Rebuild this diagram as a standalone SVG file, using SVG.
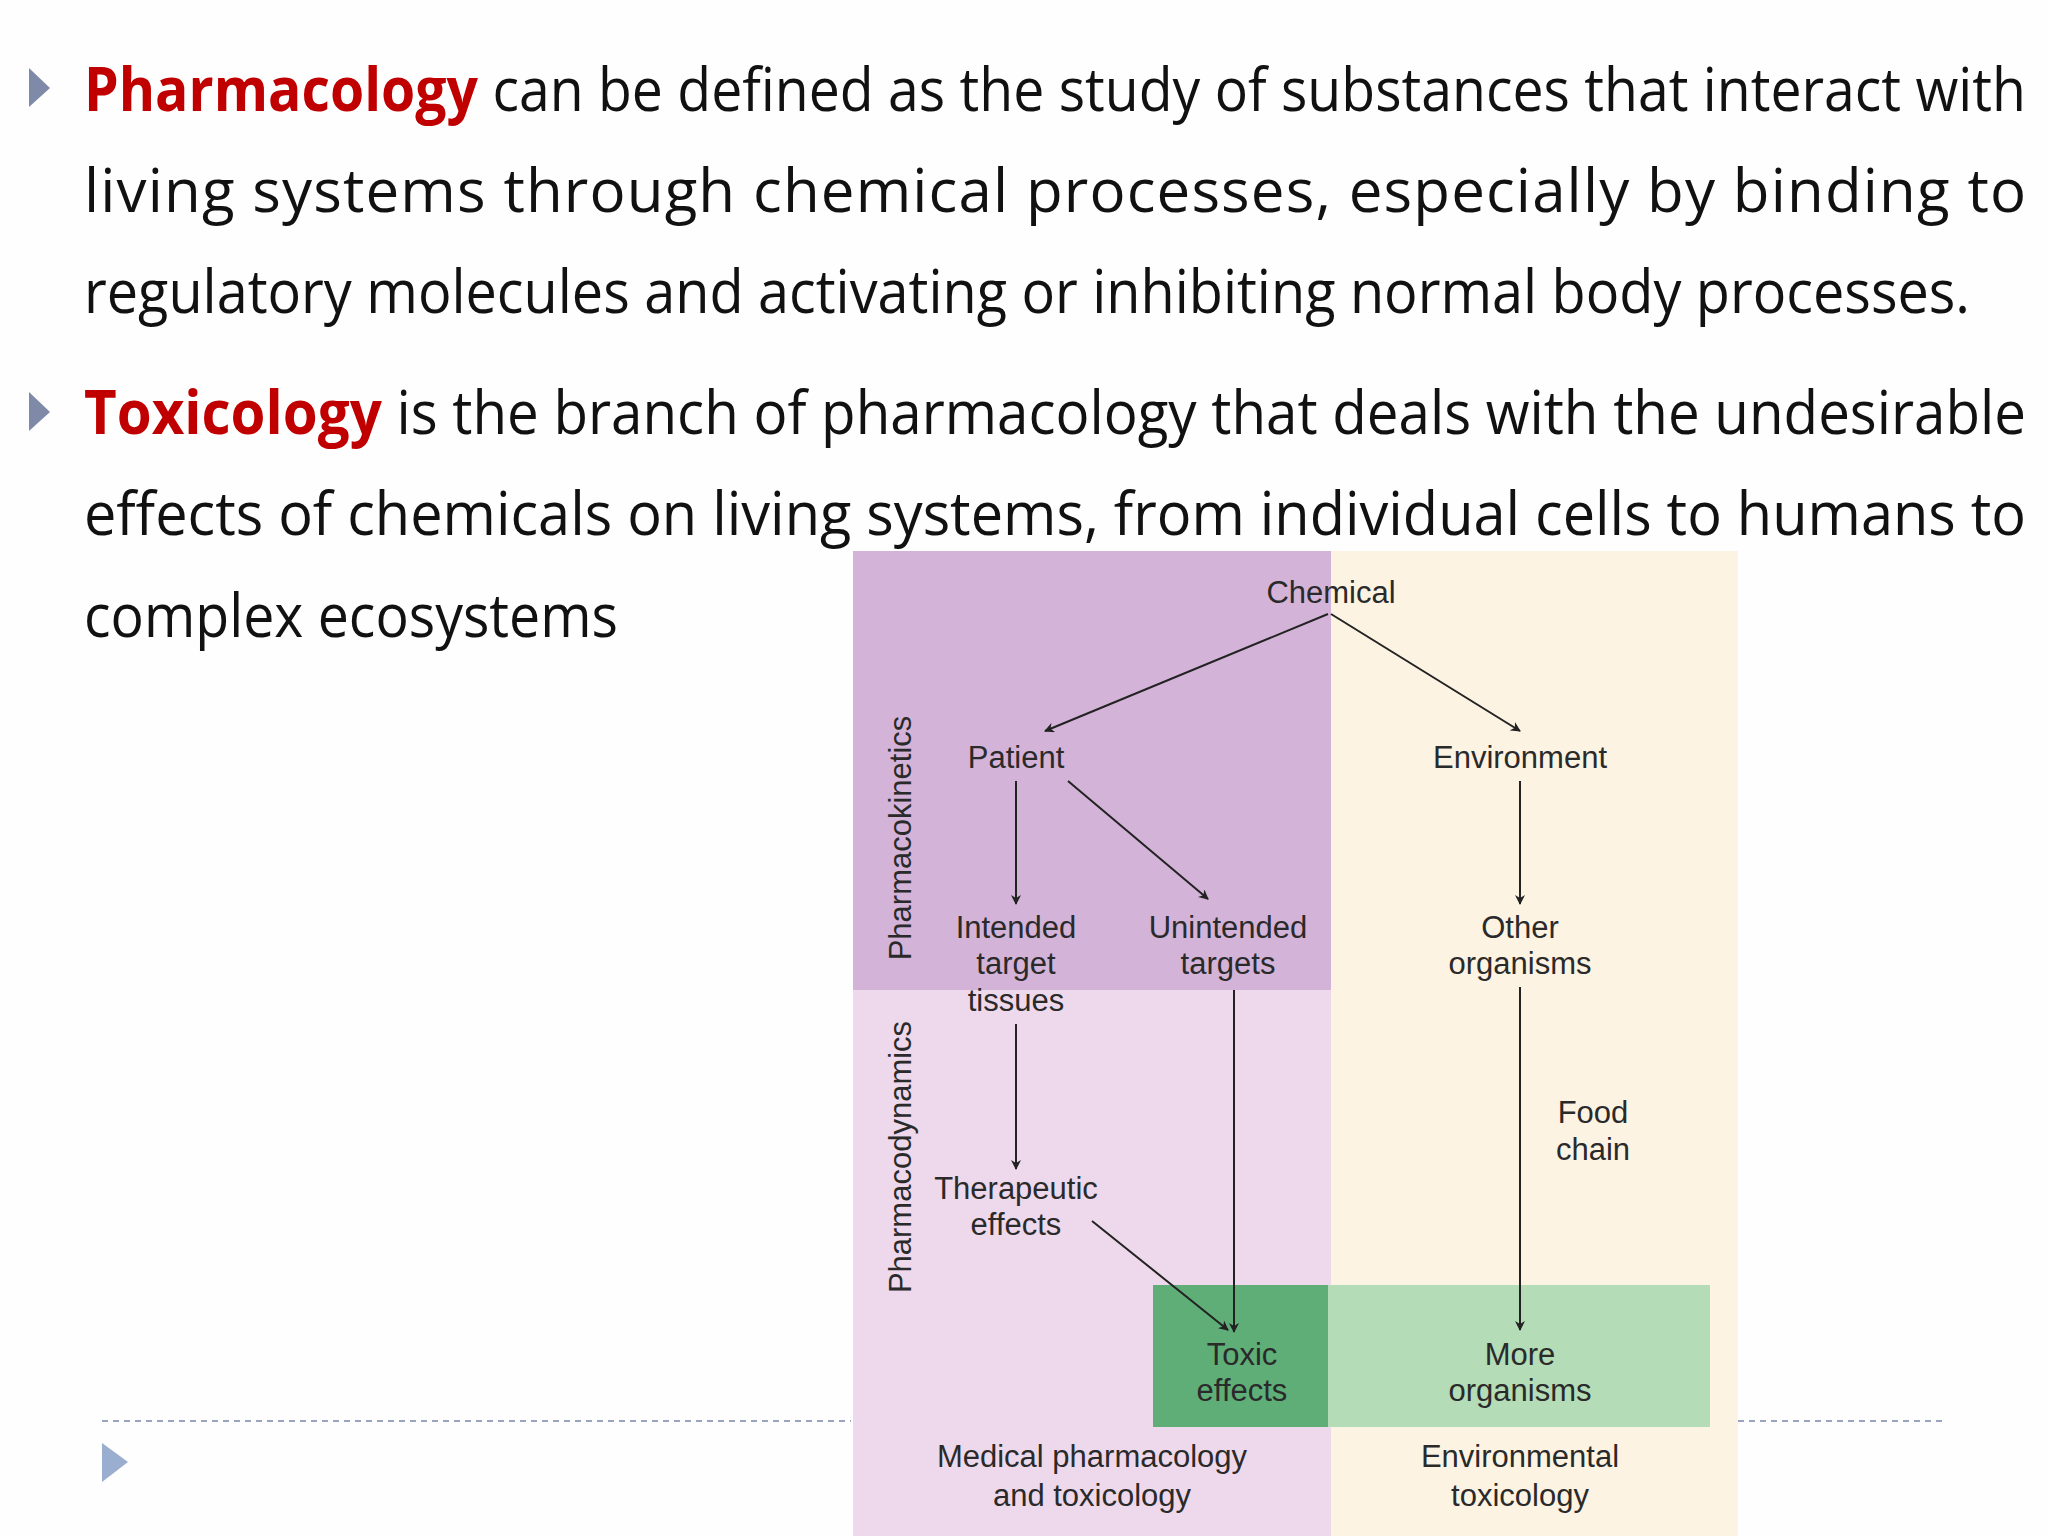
<svg xmlns="http://www.w3.org/2000/svg" width="2048" height="1536" viewBox="0 0 2048 1536">
<defs>
<style>
.b{font-family:"Open Sans","Liberation Sans",sans-serif;font-size:60px;fill:#111}
.r{fill:#c00000;font-weight:bold}
.d{font-family:"Liberation Sans",Arial,sans-serif;font-size:31px;fill:#2a2a2a;text-anchor:middle}
.c{stroke:#222;stroke-width:2;fill:none;marker-end:url(#a)}
</style>
<marker id="a" viewBox="0 0 10 10" refX="9" refY="5" markerWidth="10" markerHeight="10" orient="auto" markerUnits="userSpaceOnUse"><path d="M0,0 L10,5 L0,10 L3,5 z" fill="#222"/></marker>
</defs>
<rect width="2048" height="1536" fill="#fefefe"/>
<g id="text">
<polygon points="29,68 50,88 29,107" fill="#7f8aa8"/>
<polygon points="29,392 50,412 29,431" fill="#7f8aa8"/>
<text class="b" x="84" y="111" textLength="1942" lengthAdjust="spacingAndGlyphs"><tspan class="r">Pharmacology</tspan> can be defined as the study of substances that interact with</text>
<text class="b" x="84" y="212" textLength="1942" lengthAdjust="spacing">living systems through chemical processes, especially by binding to</text>
<text class="b" x="84" y="313" textLength="1886" lengthAdjust="spacingAndGlyphs">regulatory molecules and activating or inhibiting normal body processes.</text>
<text class="b" x="84" y="434" textLength="1942" lengthAdjust="spacingAndGlyphs"><tspan class="r">Toxicology</tspan> is the branch of pharmacology that deals with the undesirable</text>
<text class="b" x="84" y="535" textLength="1942" lengthAdjust="spacingAndGlyphs">effects of chemicals on living systems, from individual cells to humans to</text>
<text class="b" x="84" y="637" textLength="534" lengthAdjust="spacingAndGlyphs">complex ecosystems</text>
<line x1="102" y1="1421" x2="851" y2="1421" stroke="#9aa4bf" stroke-width="2" stroke-dasharray="6,5"/>
<line x1="1738" y1="1421" x2="1946" y2="1421" stroke="#9aa4bf" stroke-width="2" stroke-dasharray="6,5"/>
<polygon points="102,1443 128,1462 102,1482" fill="#9aaed0"/>
</g>
<g id="bands">
<rect x="853" y="551" width="478" height="439" fill="#d4b3d9"/>
<rect x="853" y="990" width="478" height="546" fill="#eed9ec"/>
<rect x="1331" y="551" width="407" height="985" fill="#fdf3e3"/>
<rect x="1153" y="1285" width="175" height="142" fill="#5fae78"/>
<rect x="1328" y="1285" width="382" height="142" fill="#b3dcb7"/>
<text class="d" transform="translate(911,838) rotate(-90)">Pharmacokinetics</text>
<text class="d" transform="translate(911,1157) rotate(-90)">Pharmacodynamics</text>
</g>
<g id="nodes">
<g id="chemical"><text class="d" x="1331" y="603">Chemical</text></g>
<g id="patient"><text class="d" x="1016" y="768">Patient</text></g>
<g id="environment"><text class="d" x="1520" y="768">Environment</text></g>
<g id="intended"><text class="d" x="1016" y="938">Intended</text><text class="d" x="1016" y="974">target</text><text class="d" x="1016" y="1011">tissues</text></g>
<g id="unintended"><text class="d" x="1228" y="938">Unintended</text><text class="d" x="1228" y="974">targets</text></g>
<g id="other"><text class="d" x="1520" y="938">Other</text><text class="d" x="1520" y="974">organisms</text></g>
<g id="food"><text class="d" x="1593" y="1123">Food</text><text class="d" x="1593" y="1160">chain</text></g>
<g id="therapeutic"><text class="d" x="1016" y="1199">Therapeutic</text><text class="d" x="1016" y="1235">effects</text></g>
<g id="toxic"><text class="d" x="1242" y="1365">Toxic</text><text class="d" x="1242" y="1401">effects</text></g>
<g id="more"><text class="d" x="1520" y="1365">More</text><text class="d" x="1520" y="1401">organisms</text></g>
<g id="medical"><text class="d" x="1092" y="1467">Medical pharmacology</text><text class="d" x="1092" y="1506">and toxicology</text></g>
<g id="envtox"><text class="d" x="1520" y="1467">Environmental</text><text class="d" x="1520" y="1506">toxicology</text></g>
</g>
<g id="connectors">
<line class="c" x1="1328" y1="614" x2="1045" y2="731"/>
<line class="c" x1="1331" y1="614" x2="1520" y2="731"/>
<line class="c" x1="1016" y1="781" x2="1016" y2="904"/>
<line class="c" x1="1068" y1="781" x2="1208" y2="899"/>
<line class="c" x1="1520" y1="781" x2="1520" y2="904"/>
<line class="c" x1="1016" y1="1024" x2="1016" y2="1169"/>
<line class="c" x1="1234" y1="990" x2="1234" y2="1332"/>
<line class="c" x1="1092" y1="1221" x2="1228" y2="1330"/>
<line class="c" x1="1520" y1="987" x2="1520" y2="1330"/>
</g>
</svg>
